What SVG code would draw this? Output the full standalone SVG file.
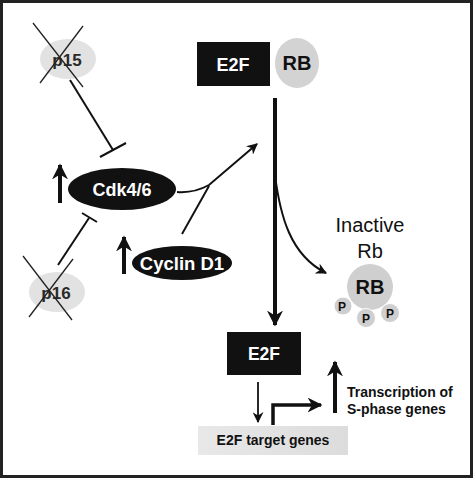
<svg xmlns="http://www.w3.org/2000/svg" width="474" height="479" viewBox="0 0 474 479">
<style>
.b{font-family:"Liberation Sans",Arial,sans-serif;font-weight:bold;text-anchor:middle}
.w{fill:#fff}
.k{fill:#111}
.ln{stroke:#111;fill:none}
.x{stroke:#222;stroke-width:1.3;fill:none}
.grey{fill:#e2e2e2}
</style>
<defs>
<marker id="ah" viewBox="0 0 10 10" refX="9" refY="5" markerWidth="11" markerHeight="11" orient="auto" markerUnits="userSpaceOnUse">
<path d="M0,0 L10,5 L0,10 L3,5 Z" fill="#111"/>
</marker>
<marker id="ahs" viewBox="0 0 10 10" refX="9" refY="5" markerWidth="15" markerHeight="15" orient="auto" markerUnits="userSpaceOnUse">
<path d="M0,0 L10,5 L0,10 L3,5 Z" fill="#111"/>
</marker>
<marker id="ahb" viewBox="0 0 10 10" refX="9" refY="5" markerWidth="4" markerHeight="4" orient="auto">
<path d="M0,0 L10,5 L0,10 L3,5 Z" fill="#111"/>
</marker>
<linearGradient id="gg" x1="0" x2="1" y1="0" y2="0">
<stop offset="0" stop-color="#e8e8e8"/>
<stop offset="1" stop-color="#dcdcdc"/>
</linearGradient>
</defs>
<rect x="0" y="0" width="474" height="479" fill="#fff"/>
<rect x="1.5" y="1.5" width="470" height="475" fill="none" stroke="#222" stroke-width="3"/>

<g id="connectors">
<line class="ln" x1="70" y1="80" x2="113" y2="150" stroke-width="2"/>
<line class="ln" x1="100" y1="157" x2="126" y2="143" stroke-width="2"/>
<line class="ln" x1="58" y1="265" x2="89" y2="218" stroke-width="2"/>
<line class="ln" x1="82" y1="213" x2="97" y2="222" stroke-width="2"/>
<path class="ln" d="M177,192 C190,193 200,190 209,185 L257,144" stroke-width="2" marker-end="url(#ah)"/>
<line class="ln" x1="182" y1="234" x2="209" y2="186" stroke-width="2"/>
<line class="ln" x1="275" y1="98" x2="275" y2="325" stroke-width="4" marker-end="url(#ahb)"/>
<path class="ln" d="M275,175 C280,215 290,255 326,273" stroke-width="2" marker-end="url(#ah)"/>
<line class="ln" x1="258" y1="382" x2="258" y2="422" stroke-width="1.8" marker-end="url(#ah)"/>
<path class="ln" d="M273,425 L273,405 L321,405" stroke-width="3.5" marker-end="url(#ahs)"/>
<line class="ln" x1="60" y1="203" x2="60" y2="165" stroke-width="4" marker-end="url(#ahb)"/>
<line class="ln" x1="124" y1="274" x2="124" y2="237" stroke-width="4" marker-end="url(#ahb)"/>
<line class="ln" x1="335" y1="413" x2="335" y2="362" stroke-width="4" marker-end="url(#ahb)"/>
</g>

<g id="p15">
<ellipse class="grey" cx="68" cy="59" rx="28" ry="20"/>
<text class="b" x="67" y="66" font-size="17" fill="#2a2a2a">p15</text>
<line class="x" x1="33" y1="23" x2="83" y2="87"/>
<line class="x" x1="83" y1="26" x2="40" y2="83"/>
</g>

<g id="p16">
<ellipse class="grey" cx="57" cy="292" rx="28" ry="20"/>
<text class="b" x="56" y="299" font-size="17" fill="#2a2a2a">p16</text>
<line class="x" x1="23" y1="256" x2="72" y2="320"/>
<line class="x" x1="73" y1="259" x2="29" y2="317"/>
</g>

<g id="cdk">
<ellipse class="k" cx="122" cy="189" rx="54" ry="21"/>
<text class="b w" x="122" y="196" font-size="18">Cdk4/6</text>
</g>

<g id="cyclin">
<ellipse class="k" cx="182" cy="263" rx="50" ry="17"/>
<text class="b w" x="182" y="270" font-size="18.5">Cyclin D1</text>
</g>

<g id="e2f-top">
<rect class="k" x="197" y="42" width="73" height="44"/>
<text class="b w" x="233" y="71" font-size="18">E2F</text>
</g>

<g id="rb-top">
<ellipse cx="297" cy="63" rx="22" ry="25" fill="#d3d3d3"/>
<text class="b k" x="297" y="70" font-size="20">RB</text>
</g>

<g id="inactive-rb">
<text x="370" y="232" font-family="Liberation Sans, Arial, sans-serif" font-size="20" text-anchor="middle" fill="#111">Inactive</text>
<text x="370" y="258" font-family="Liberation Sans, Arial, sans-serif" font-size="20" text-anchor="middle" fill="#111">Rb</text>
<circle cx="370" cy="287" r="23" fill="#cfcfcf"/>
<circle cx="343" cy="306" r="9" fill="#cfcfcf" stroke="#fff" stroke-width="1"/>
<circle cx="366" cy="318" r="9.5" fill="#cfcfcf" stroke="#fff" stroke-width="1"/>
<circle cx="390" cy="313" r="9.5" fill="#cfcfcf" stroke="#fff" stroke-width="1"/>
<text class="b k" x="370" y="294" font-size="20">RB</text>
<text class="b k" x="342" y="311" font-size="12">P</text>
<text class="b k" x="366" y="323" font-size="12">P</text>
<text class="b k" x="390" y="318" font-size="12">P</text>
</g>

<g id="e2f-bottom">
<rect class="k" x="227" y="332" width="74" height="43"/>
<text class="b w" x="264" y="360" font-size="17.5">E2F</text>
</g>

<g id="targets">
<rect x="198" y="426" width="150" height="29" fill="url(#gg)"/>
<text class="b k" x="273" y="445" font-size="14">E2F target genes</text>
</g>

<g id="transcription">
<text x="347" y="397" font-family="Liberation Sans, Arial, sans-serif" font-weight="bold" font-size="14" fill="#111">Transcription of</text>
<text x="347" y="414" font-family="Liberation Sans, Arial, sans-serif" font-weight="bold" font-size="14" fill="#111">S-phase genes</text>
</g>
</svg>
